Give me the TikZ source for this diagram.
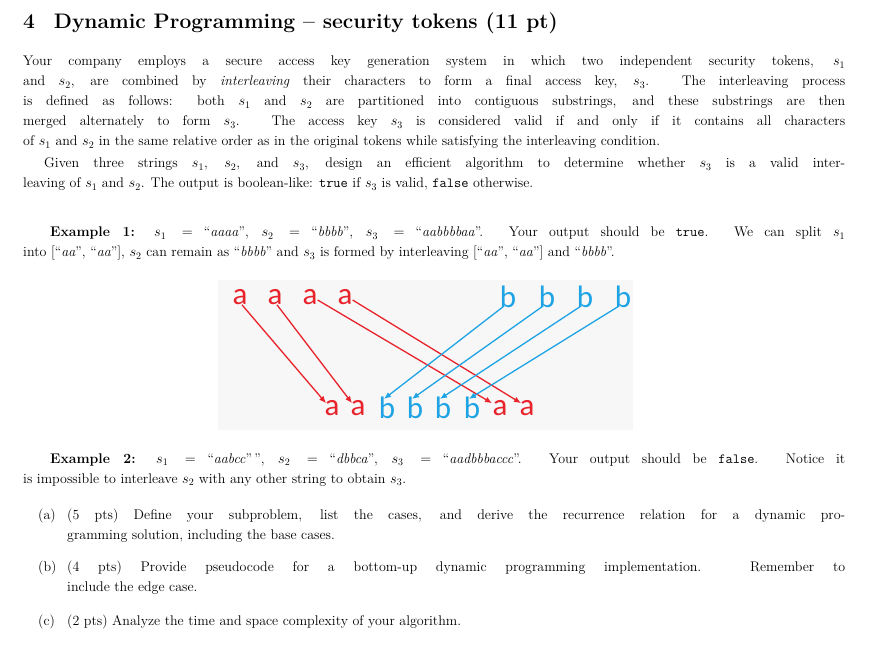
\documentclass[tikz,border=0pt]{standalone}
\usepackage{fontspec}
\newfontfamily\carlfont{Carlito}
\usetikzlibrary{arrows.meta}
\definecolor{rd}{HTML}{E8232B}
\definecolor{bl}{HTML}{1EA4E4}
\newcommand\justline[3]{\node[txt] at (#2,#1) {\makebox[\dimexpr845pt-#2pt\relax][s]{#3}};}
\newcommand\plainline[3]{\node[txt] at (#2,#1) {#3};}
\begin{document}
\begin{tikzpicture}[x=1pt,y=-1pt,
 txt/.style={anchor=base west,inner sep=0,font=\fontsize{14}{20}\selectfont},
 let/.style={inner sep=0,font=\carlfont\fontsize{31}{31}\selectfont},
 ra/.style={rd,line width=1.3,-{Latex[length=7,width=6]}},
 ba/.style={bl,line width=1.3,-{Latex[length=7,width=6]}}]
\useasboundingbox (0,0) rectangle (886,660);
\node[anchor=base west,inner sep=0,font=\fontsize{21}{24}\selectfont\bfseries] (title) at (23,29) {4\hspace{0.9em}Dynamic Programming -- security tokens (11 pt)};
\justline{66}{23}{Your company employs a secure access key generation system in which two independent security tokens, $s_1$}
\justline{86}{23}{and $s_2$, are combined by \emph{interleaving} their characters to form a final access key, $s_3$. The interleaving process}
\justline{106}{23}{is defined as follows: both $s_1$ and $s_2$ are partitioned into contiguous substrings, and these substrings are then}
\justline{126}{23}{merged alternately to form $s_3$. The access key $s_3$ is considered valid if and only if it contains all characters}
\plainline{146}{23}{of $s_1$ and $s_2$ in the same relative order as in the original tokens while satisfying the interleaving condition.}
\justline{168}{44}{Given three strings $s_1$, $s_2$, and $s_3$, design an efficient algorithm to determine whether $s_3$ is a valid inter-}
\plainline{188}{23}{leaving of $s_1$ and $s_2$. The output is boolean-like: \texttt{true} if $s_3$ is valid, \texttt{false} otherwise.}
\justline{237}{50}{\textbf{Example 1:} $s_1 =$ ``\emph{aaaa}'', $s_2 =$ ``\emph{bbbb}'', $s_3 =$ ``\emph{aabbbbaa}''. Your output should be \texttt{true}. We can split $s_1$}
\plainline{257}{23}{into [``\emph{aa}'', ``\emph{aa}''], $s_2$ can remain as ``\emph{bbbb}'' and $s_3$ is formed by interleaving [``\emph{aa}'', ``\emph{aa}''] and ``\emph{bbbb}''.}
\fill[black!3] (218,280) rectangle (633,430);
\foreach \x [count=\i] in {240,275,310,345} \node[let,rd] (ta\i) at (\x,297) {a};
\foreach \x [count=\i] in {508,547,585,623} \node[let,bl] (tb\i) at (\x,297) {b};
\foreach \x/\c/\n/\t in {332/rd/c1/a,358/rd/c2/a,387/bl/c3/b,415/bl/c4/b,443/bl/c5/b,472/bl/c6/b,500/rd/c7/a,527/rd/c8/a}
  \node[let,text=\c] (\n) at (\x,408) {\t};
\draw[ra] ([xshift=2]ta1.south) -- ([xshift=-6,yshift=-3]c1.north);
\draw[ra] ([xshift=2]ta2.south) -- ([xshift=-6,yshift=-3]c2.north);
\draw[ra] ([yshift=-3]ta3.east) -- ([xshift=-8,yshift=-3]c7.north);
\draw[ra] ([yshift=-3]ta4.east) -- ([xshift=-6,yshift=-3]c8.north);
\draw[ba] ([xshift=-4,yshift=2]tb1.south) -- ([xshift=-3,yshift=-2]c3.north);
\draw[ba] ([xshift=-4,yshift=2]tb2.south) -- ([xshift=-3,yshift=-2]c4.north);
\draw[ba] ([xshift=-4,yshift=2]tb3.south) -- ([xshift=-3,yshift=-2]c5.north);
\draw[ba] ([xshift=-4,yshift=2]tb4.south) -- ([xshift=-3,yshift=-2]c6.north);
\justline{463}{50}{\textbf{Example 2:} $s_1 =$ ``\emph{aabcc}''\,'', $s_2 =$ ``\emph{dbbca}'', $s_3 =$ ``\emph{aadbbbaccc}''. Your output should be \texttt{false}. Notice it}
\plainline{483}{23}{is impossible to interleave $s_2$ with any other string to obtain $s_3$.}
\plainline{519}{38}{(a)}
\justline{519}{67}{(5 pts) Define your subproblem, list the cases, and derive the recurrence relation for a dynamic pro-}
\plainline{539}{67}{gramming solution, including the base cases.}
\plainline{571}{38}{(b)}
\justline{571}{67}{(4 pts) Provide pseudocode for a bottom-up dynamic programming implementation. Remember to}
\plainline{591}{67}{include the edge case.}
\plainline{625}{38}{(c)}
\plainline{625}{67}{(2 pts) Analyze the time and space complexity of your algorithm.}
\end{tikzpicture}
\end{document}
